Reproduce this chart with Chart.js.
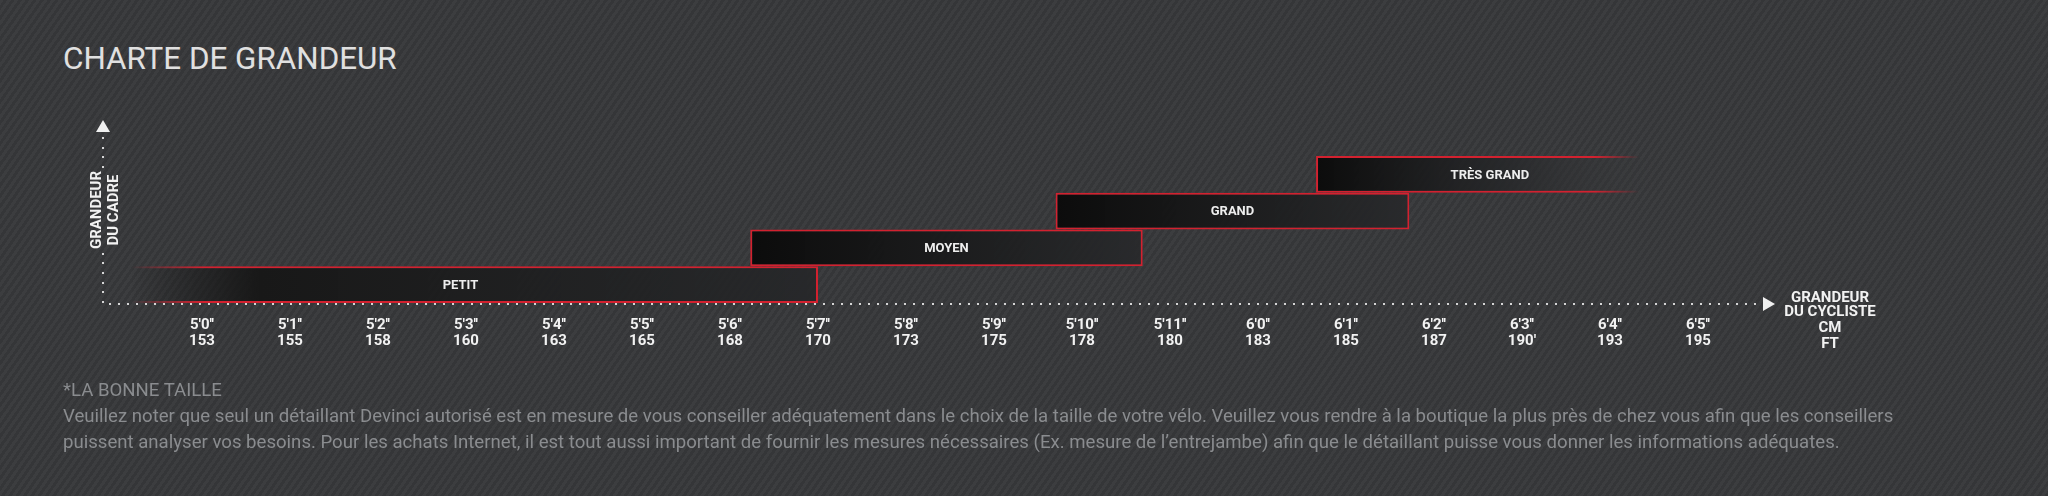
<!DOCTYPE html>
<html lang="fr">
<head>
<meta charset="utf-8">
<title>Charte de grandeur</title>
<script src="https://cdn.jsdelivr.net/npm/chart.js@4"></script>
<style>
  html, body { margin: 0; padding: 0; }
  body {
    width: 2048px; height: 496px; overflow: hidden; position: relative;
    background-color: #393a3c;
    background-image: repeating-linear-gradient(125deg, #3c3d3f 0 3px, #353638 3px 6px);
    font-family: Roboto, sans-serif;
  }
  #chart { position: absolute; left: 0; top: 0; }
  h1 {
    position: absolute; left: 63px; top: 42px; margin: 0;
    font-size: 32px; line-height: 32px; font-weight: 400; color: #e0e0e0;
    transform: scaleX(0.98); transform-origin: left top;
  }
  .note {
    position: absolute; left: 63px; top: 377px;
    font-size: 18.6px; line-height: 26px; color: #8a8c8f; white-space: nowrap;
  }
</style>
</head>
<body>
<h1>CHARTE DE GRANDEUR</h1>
<canvas id="chart" width="2048" height="496"></canvas>
<div class="note">*LA BONNE TAILLE<br>Veuillez noter que seul un détaillant Devinci autorisé est en mesure de vous conseiller adéquatement dans le choix de la taille de votre vélo. Veuillez vous rendre à la boutique la plus près de chez vous afin que les conseillers<br>puissent analyser vos besoins. Pour les achats Internet, il est tout aussi important de fournir les mesures nécessaires (Ex. mesure de l’entrejambe) afin que le détaillant puisse vous donner les informations adéquates.</div>
<script>
const SIZES = ['PETIT', 'MOYEN', 'GRAND', 'TRÈS GRAND'];
// rider height covered by each frame size, in inches
const SIZE_FROM = [58.875, 66.23, 69.7, 72.66];
const SIZE_TO = [67, 70.69, 73.72, 76.61];

// x axis ticks: rider height in inches, shown as feet/inches and cm
const INCHES = [60, 61, 62, 63, 64, 65, 66, 67, 68, 69, 70, 71, 72, 73, 74, 75, 76, 77];
const FEET = ["5'0''", "5'1''", "5'2''", "5'3''", "5'4''", "5'5''", "5'6''", "5'7''", "5'8''",
  "5'9''", "5'10''", "5'11''", "6'0''", "6'1''", "6'2''", "6'3''", "6'4''", "6'5''"];
const CM = ['153', '155', '158', '160', '163', '165', '168', '170', '173',
  '175', '178', '180', '183', '185', '187', "190'", '193', '195'];

const RED = '#d3212f';
const canvas = document.getElementById('chart');
const ctx = canvas.getContext('2d');

function barEnds(context) {
  const x = context.chart.scales.x;
  const i = context.dataIndex;
  return [x.getPixelForValue(SIZE_FROM[i]), x.getPixelForValue(SIZE_TO[i])];
}

function fillFor(context) {
  const [x0, x1] = barEnds(context);
  if (!isFinite(x0) || !isFinite(x1)) return '#111';
  const g = ctx.createLinearGradient(x0, 0, x1, 0);
  const i = context.dataIndex;
  if (i === 0) {
    g.addColorStop(0, 'rgba(20,20,20,0)');
    g.addColorStop(0.04, 'rgba(20,20,20,0)');
    g.addColorStop(0.22, 'rgba(24,24,24,1)');
    g.addColorStop(1, 'rgba(38,39,41,0.9)');
  } else if (i === SIZES.length - 1) {
    g.addColorStop(0, '#0c0c0c');
    g.addColorStop(0.55, 'rgba(38,39,41,0.85)');
    g.addColorStop(1, 'rgba(58,59,61,0)');
  } else {
    g.addColorStop(0, '#0c0c0c');
    g.addColorStop(1, 'rgba(40,41,43,0.9)');
  }
  return g;
}

function borderFor(context) {
  const [x0, x1] = barEnds(context);
  if (!isFinite(x0) || !isFinite(x1)) return RED;
  const i = context.dataIndex;
  if (i === 0) {
    const g = ctx.createLinearGradient(x0, 0, x1, 0);
    g.addColorStop(0.04, 'rgba(211,33,47,0)');
    g.addColorStop(0.14, RED);
    g.addColorStop(1, RED);
    return g;
  }
  if (i === SIZES.length - 1) {
    const g = ctx.createLinearGradient(x0, 0, x1, 0);
    g.addColorStop(0, RED);
    g.addColorStop(0.8, RED);
    g.addColorStop(0.93, 'rgba(211,33,47,0)');
    return g;
  }
  return RED;
}

function dotLine(c, x0, y0, x1, y1, step, skip) {
  const len = Math.hypot(x1 - x0, y1 - y0);
  const n = Math.floor(len / step);
  for (let k = 0; k <= n; k++) {
    const x = x0 + (x1 - x0) * k / n;
    const y = y0 + (y1 - y0) * k / n;
    if (skip && skip(x, y)) continue;
    c.fillRect(Math.round(x) - 1, Math.round(y) - 1, 2, 2);
  }
}

const axesPlugin = {
  id: 'axes',
  beforeDatasetsDraw(chart) {
    const c = chart.ctx;
    const { left, right, top, bottom } = chart.chartArea;
    const ax = left, ay = bottom + 1;
    c.save();
    c.fillStyle = '#d6d6d6';
    // dotted axes
    dotLine(c, ax + 7, ay, right, ay, 9);
    dotLine(c, ax, ay - 2, ax, top - 18, 9.2, (x, y) => y > top + 14 && y < top + 96);
    // arrow heads
    c.fillStyle = '#f0f0f0';
    c.beginPath();
    c.moveTo(ax, top - 36);
    c.lineTo(ax - 7, top - 24);
    c.lineTo(ax + 7, top - 24);
    c.closePath();
    c.fill();
    c.beginPath();
    c.moveTo(right + 20, ay);
    c.lineTo(right + 8, ay - 7);
    c.lineTo(right + 8, ay + 7);
    c.closePath();
    c.fill();
    // axis names
    c.fillStyle = '#f2f2f2';
    c.font = 'bold 15px Roboto';
    c.textAlign = 'center';
    c.textBaseline = 'middle';
    [['GRANDEUR', -6], ['DU CADRE', 11]].forEach(([txt, dx]) => {
      c.save();
      c.translate(ax + dx, top + 54);
      c.rotate(-Math.PI / 2);
      c.fillText(txt, 0, 0);
      c.restore();
    });
    [['GRANDEUR', -6], ['DU CYCLISTE', 8], ['CM', 24], ['FT', 40]].forEach(([txt, dy]) => {
      c.fillText(txt, right + 75, ay + dy);
    });
    c.restore();
  },
  afterDatasetsDraw(chart) {
    const c = chart.ctx;
    const meta = chart.getDatasetMeta(0);
    c.save();
    c.fillStyle = '#eeeeee';
    c.font = 'bold 13px Roboto';
    c.textAlign = 'center';
    c.textBaseline = 'middle';
    meta.data.forEach((bar, i) => {
      c.fillText(SIZES[i], (bar.x + bar.base) / 2, bar.y + 1);
    });
    c.restore();
  }
};

new Chart(ctx, {
  type: 'bar',
  data: {
    labels: SIZES,
    datasets: [{
      data: SIZES.map((s, i) => [SIZE_FROM[i], SIZE_TO[i]]),
      backgroundColor: fillFor,
      borderColor: borderFor,
      borderWidth: 2,
      borderSkipped: (context) => context.dataIndex === 0 ? 'left'
        : context.dataIndex === SIZES.length - 1 ? 'right' : false,
      inflateAmount: 0,
      barPercentage: 1,
      categoryPercentage: 1
    }]
  },
  options: {
    indexAxis: 'y',
    responsive: false,
    animation: false,
    events: [],
    layout: { padding: { left: 103, right: 293, top: 156, bottom: 0 } },
    plugins: {
      legend: { display: false },
      tooltip: { enabled: false }
    },
    scales: {
      x: {
        type: 'linear',
        position: 'bottom',
        min: 58.875,
        max: 77.648,
        grid: { display: false, drawTicks: false },
        border: { display: false },
        afterBuildTicks: (scale) => { scale.ticks = INCHES.map((v) => ({ value: v })); },
        afterFit: (scale) => { scale.height = 193; },
        ticks: {
          autoSkip: false,
          maxRotation: 0,
          padding: 14,
          color: '#f2f2f2',
          font: { family: 'Roboto', weight: 'bold', size: 15, lineHeight: 1.07 },
          callback: (value, index) => [FEET[index], CM[index]]
        }
      },
      y: { type: 'category', display: false, reverse: true }
    }
  },
  plugins: [axesPlugin]
});
</script>
</body>
</html>
